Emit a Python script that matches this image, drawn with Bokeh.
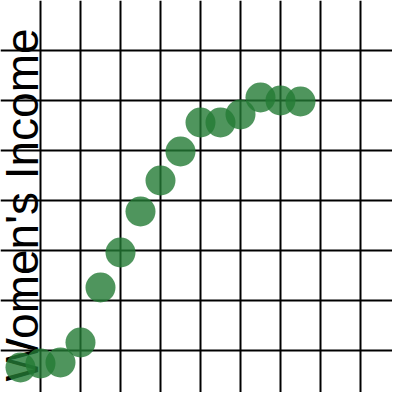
from bokeh.plotting import figure
from bokeh.models import Label, FixedTicker, Range1d
from bokeh.embed import file_html
from bokeh.resources import INLINE
from math import pi

# data
period = [1, 2, 3, 4, 5, 6, 7, 8, 9, 10, 11, 12, 13, 14, 15]
womens_income = [6.6, 7.4, 7.6, 11.6, 22.6, 29.6, 37.8, 44.0, 49.8, 55.6,
                 55.6, 57.2, 60.6, 60.0, 59.8]
x_grid = [0, 2, 4, 6, 8, 10, 12, 14, 16, 18]
y_grid = [10, 20, 30, 40, 50, 60, 70]

p = figure(width=392, height=392, output_backend="svg", toolbar_location=None,
           x_axis_location=None, y_axis_location=None, min_border=0,
           outline_line_color=None)
p.x_range = Range1d(0, 19.6)
p.y_range = Range1d(1.6, 80)

p.xgrid.ticker = FixedTicker(ticks=x_grid)
p.ygrid.ticker = FixedTicker(ticks=y_grid)
for g in (p.xgrid, p.ygrid):
    g.grid_line_color = "black"
    g.grid_line_width = 2
    g.grid_line_alpha = 1.0

# y label sits inside the plot, under the points
lbl = Label(x=1.05, y=3.8, text="Women's Income", angle=pi / 2,
            text_font="Liberation Sans", text_font_size="46px",
            text_color="black", text_align="left", text_baseline="alphabetic",
            level="underlay")
p.add_layout(lbl)

p.scatter(period, womens_income, size=30, fill_color="#237b34", fill_alpha=0.8,
          line_color=None)

open("out.html", "w").write(file_html(p, INLINE))
